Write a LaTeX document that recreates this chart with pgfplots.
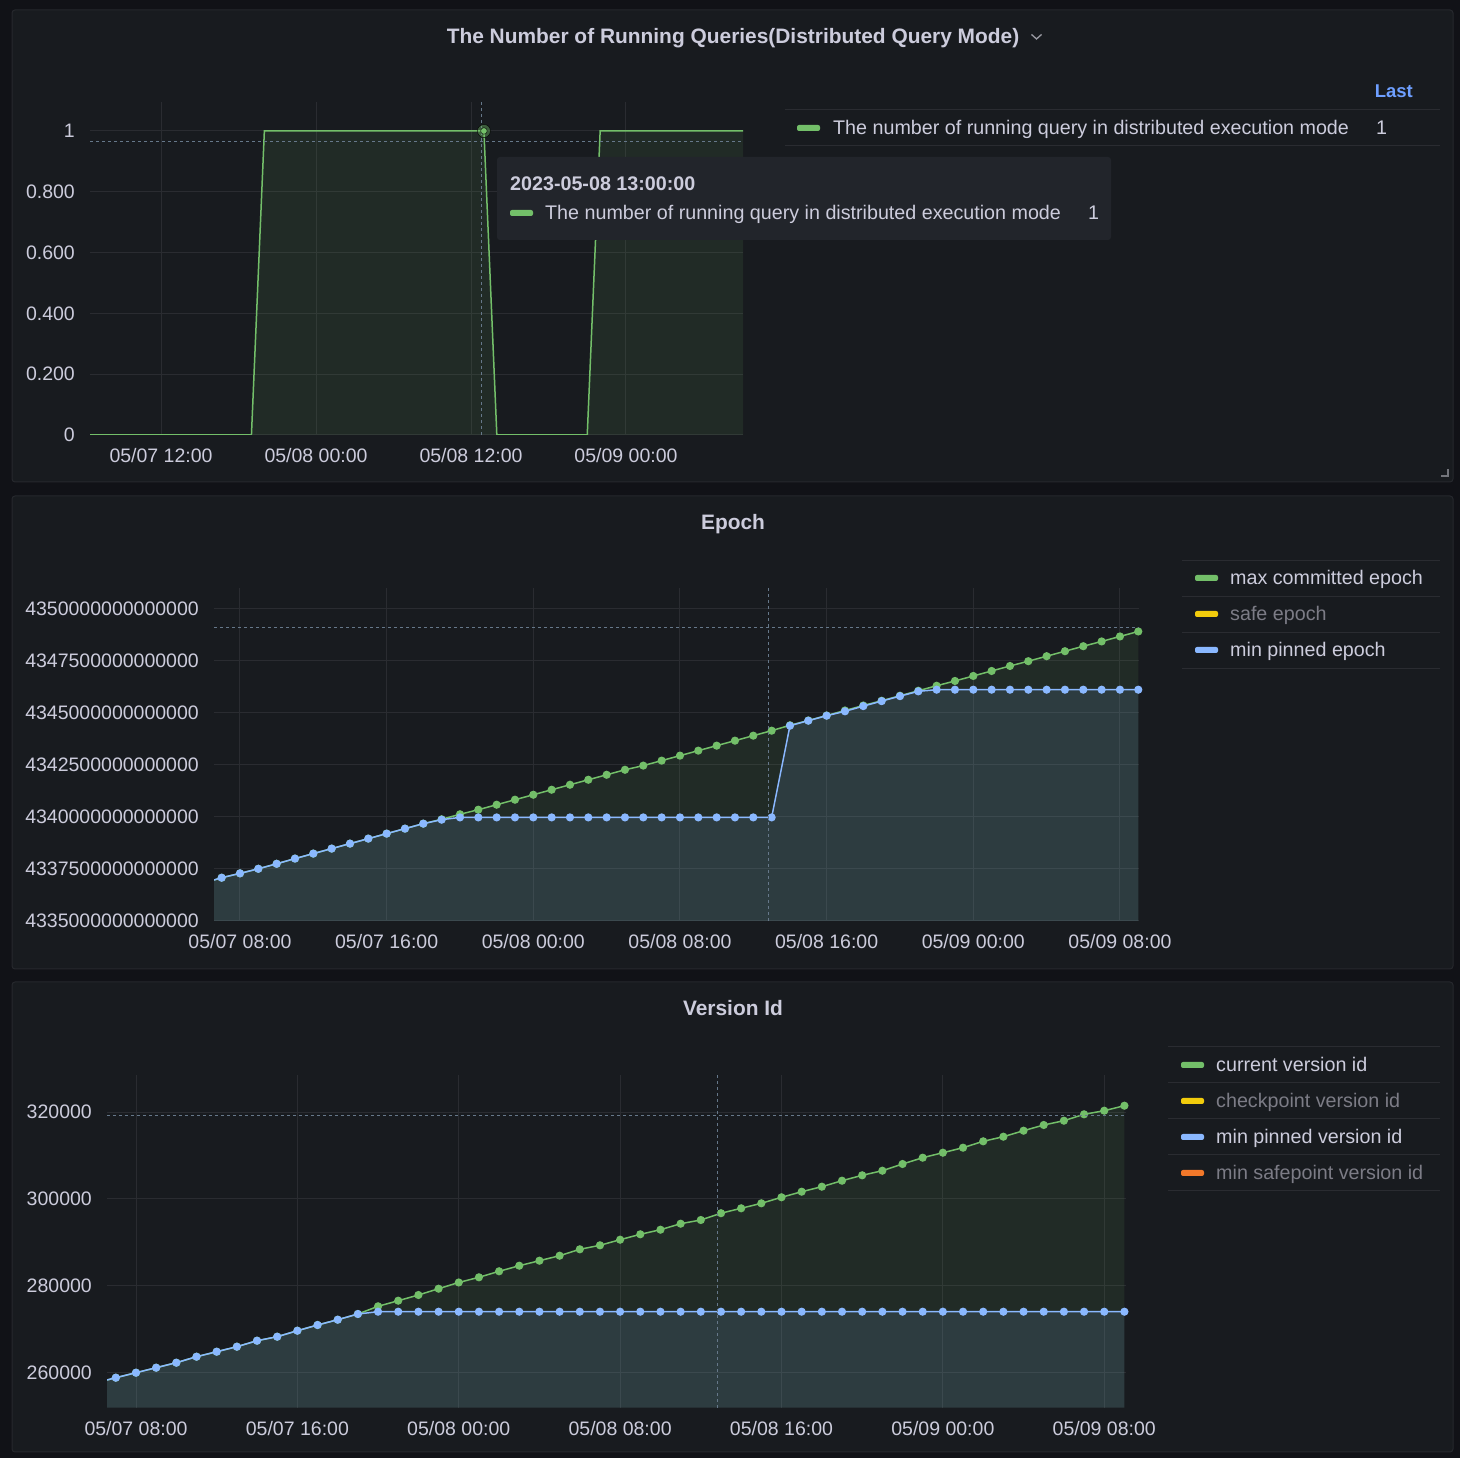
\documentclass[border=0pt]{standalone}
\usepackage{fontspec}
\setmainfont{Liberation Sans}
\usepackage{pgfplots}
\usepackage{pgfplotstable}
\pgfplotsset{compat=1.18}
\definecolor{pagebg}{HTML}{111217}
\definecolor{panelbg}{HTML}{181B1F}
\definecolor{panelborder}{HTML}{26282D}
\definecolor{gridc}{HTML}{2A2C31}
\definecolor{txt}{HTML}{CCCCDC}
\definecolor{dimtxt}{HTML}{7C7C86}
\definecolor{ggreen}{HTML}{73BF69}
\definecolor{gblue}{HTML}{8AB8FF}
\definecolor{gyellow}{HTML}{F2CC0C}
\definecolor{gorange}{HTML}{F2782A}
\definecolor{linkblue}{HTML}{6E9FFF}
\definecolor{tipbg}{HTML}{22252B}
\definecolor{crossc}{HTML}{66788A}
\definecolor{chev}{HTML}{9A9BA3}
\newcommand{\tickfont}{\fontsize{19.5bp}{22bp}\selectfont}
\newcommand{\legfont}{\fontsize{19.7bp}{22bp}\selectfont}
\newcommand{\titlefont}{\fontsize{20.9bp}{24bp}\selectfont\bfseries}

\pgfplotstableread{
h v
6.5 0
19 0
20 1
37 1
38 0
45 0
46 1
57.06 1
}\qrytbl

\pgfplotstableread{
h g b
6.582 4336.97 4336.97
7 4337.08 4337.08
8 4337.29 4337.29
9 4337.51 4337.51
10 4337.75 4337.75
11 4338.00 4338.00
12 4338.24 4338.24
13 4338.48 4338.48
14 4338.72 4338.72
15 4338.96 4338.96
16 4339.20 4339.20
17 4339.44 4339.44
18 4339.68 4339.68
19 4339.89 4339.87
20 4340.13 4339.98
21 4340.35 4339.98
22 4340.59 4339.98
23 4340.83 4339.98
24 4341.07 4339.98
25 4341.31 4339.98
26 4341.55 4339.98
27 4341.79 4339.98
28 4342.03 4339.98
29 4342.27 4339.98
30 4342.47 4339.98
31 4342.71 4339.98
32 4342.95 4339.98
33 4343.19 4339.98
34 4343.43 4339.98
35 4343.67 4339.98
36 4343.91 4339.98
37 4344.15 4339.98
38 4344.41 4344.39
39 4344.64 4344.63
40 4344.88 4344.87
41 4345.12 4345.08
42 4345.36 4345.33
43 4345.59 4345.57
44 4345.83 4345.81
45 4346.07 4346.04
46 4346.31 4346.12
47 4346.54 4346.12
48 4346.78 4346.12
49 4347.02 4346.12
50 4347.26 4346.12
51 4347.49 4346.12
52 4347.73 4346.12
53 4347.97 4346.12
54 4348.21 4346.12
55 4348.44 4346.12
56 4348.68 4346.12
57 4348.92 4346.12
}\epochtbl

\pgfplotstableread{
h g b
6.562 258224 258224
7 258754 258754
8 259908 259908
9 261061 261061
10 262215 262215
11 263600 263600
12 264752 264752
13 265905 265905
14 267290 267290
15 268212 268212
16 269596 269596
17 270911 270911
18 272134 272134
19 273449 273449
20 275225 273979
21 276517 273979
22 277831 273979
23 279285 273979
24 280720 273979
25 281915 273979
26 283299 273979
27 284591 273979
28 285744 273979
29 286897 273979
30 288374 273979
31 289296 273979
32 290588 273979
33 291834 273979
34 292895 273979
35 294279 273979
36 295133 273979
37 296700 273979
38 297832 273979
39 298985 273979
40 300370 273979
41 301661 273979
42 302815 273979
43 304199 273979
44 305444 273979
45 306505 273979
46 308050 273979
47 309504 273979
48 310657 273979
49 311811 273979
50 313287 273979
51 314349 273979
52 315733 273979
53 317048 273979
54 318040 273979
55 319516 273979
56 320346 273979
57 321500 273979
}\versiontbl

\pgfplotsset{
  gf/.style={
    scale only axis,
    anchor=south west,
    axis line style={draw=none},
    grid=major,
    major grid style={draw=gridc, line width=1bp},
    tick style={draw=none},
    major tick length=0pt,
    scaled y ticks=false,
    scaled x ticks=false,
    tick label style={font=\tickfont, text=txt},
    xticklabel style={anchor=center, yshift=-20.5bp, inner sep=0pt},
    yticklabel style={anchor=east, xshift=-15bp, inner sep=0pt},
    clip mode=individual,
  },
}
\tikzset{
  gline/.style={ggreen, line width=1.5bp, mark=*, mark size=3.3bp, mark phase=2, mark repeat=1, mark options={solid, fill=ggreen, draw=ggreen}},
  bline/.style={gblue, line width=1.5bp, mark=*, mark size=3.3bp, mark phase=2, mark repeat=1, mark options={solid, fill=gblue, draw=gblue}},
  cross/.style={crossc, line width=0.9bp, dash pattern=on 3bp off 3bp},
  gfill/.style={draw=none, fill=ggreen, fill opacity=0.1},
  bfill/.style={draw=none, fill=gblue, fill opacity=0.12},
}

\newcommand{\swatch}[3]{\fill[#3, rounded corners=2bp] (#1,#2-3) rectangle (#1+23,#2+3);}
\newcommand{\ltext}[4]{\node[anchor=base west, inner sep=0pt, text=#3, font=\legfont] at (#1,#2) {#4};}
\newcommand{\sep}[3]{\draw[gridc, line width=1bp] (#1,#3) -- (#2,#3);}

\begin{document}
\begin{tikzpicture}[x=1bp, y=1bp]
% page and panels
\fill[pagebg] (0,0) rectangle (1460,1458);
\draw[panelborder, fill=panelbg, line width=1bp, rounded corners=3bp] (12,976) rectangle (1453,1448);
\draw[panelborder, fill=panelbg, line width=1bp, rounded corners=3bp] (12,489) rectangle (1453,962);
\draw[panelborder, fill=panelbg, line width=1bp, rounded corners=3bp] (12,6) rectangle (1453,476);

% titles
\node[anchor=base, inner sep=0pt, text=txt, font=\titlefont] at (733,1414) {The Number of Running Queries(Distributed Query Mode)};
\draw[chev, line width=1.3bp] (1031.5,1423.5) -- (1036.5,1419) -- (1041.5,1423.5);
\node[anchor=base, inner sep=0pt, text=txt, font=\titlefont] at (733,928.5) {Epoch};
\node[anchor=base, inner sep=0pt, text=txt, font=\titlefont] at (733,442.5) {Version Id};
\draw[chev!70!panelbg, line width=1.2bp] (1441,982) -- (1448,982) -- (1448,989);

% ---------- panel 1 ----------
\begin{axis}[gf, at={(90bp,1023bp)}, width=653bp, height=333bp,
  xmin=6.5, xmax=57.06, ymin=0, ymax=1.0954,
  xtick={12,24,36,48}, xticklabels={05/07 12:00,05/08 00:00,05/08 12:00,05/09 00:00},
  ytick={0,0.2,0.4,0.6,0.8,1}, yticklabels={0,0.200,0.400,0.600,0.800,1}]
  \addplot[gfill] table[x=h, y=v] {\qrytbl} -- (axis cs:57.06,0) -- (axis cs:6.5,0) -- cycle;
  \addplot[ggreen, line width=1.5bp] table[x=h, y=v] {\qrytbl};
  \draw[cross] (axis cs:36.77,0) -- (axis cs:36.77,1.0954);
  \draw[cross] (axis cs:6.5,0.964) -- (axis cs:57.06,0.964);
  \addplot[only marks, mark=*, mark size=6.5bp, mark options={fill=ggreen, draw=none, fill opacity=0.4}] coordinates {(37,1)};
  \addplot[only marks, mark=*, mark size=3.3bp, mark options={fill=ggreen, draw=none}] coordinates {(37,1)};
\end{axis}

% legend panel 1
\node[anchor=base east, inner sep=0pt, text=linkblue, font=\fontsize{18.5bp}{22bp}\selectfont\bfseries] at (1413,1360.5) {Last};
\sep{785}{1440}{1348}
\sep{785}{1440}{1312}
\swatch{797}{1330}{ggreen}
\ltext{833}{1323}{txt}{The number of running query in distributed execution mode}
\ltext{1376}{1323}{txt}{1}

% tooltip
\fill[tipbg, rounded corners=3bp] (497,1218) rectangle (1111,1301);
\node[anchor=base west, inner sep=0pt, text=txt, font=\legfont\bfseries] at (510,1267) {2023-05-08 13:00:00};
\swatch{510}{1245}{ggreen}
\ltext{545}{1238}{txt}{The number of running query in distributed execution mode}
\ltext{1088}{1238}{txt}{1}

% ---------- panel 2 ----------
\begin{axis}[gf, at={(214bp,537bp)}, width=925bp, height=333bp,
  xmin=6.582, xmax=57.04, ymin=4335, ymax=4351.01,
  xtick={8,16,24,32,40,48,56},
  xticklabels={05/07 08:00,05/07 16:00,05/08 00:00,05/08 08:00,05/08 16:00,05/09 00:00,05/09 08:00},
  ytick={4335,4337.5,4340,4342.5,4345,4347.5,4350},
  yticklabels={4335000000000000,4337500000000000,4340000000000000,4342500000000000,4345000000000000,4347500000000000,4350000000000000}]
  \addplot[gfill] table[x=h, y=g] {\epochtbl} -- (axis cs:57,4335) -- (axis cs:6.582,4335) -- cycle;
  \addplot[bfill] table[x=h, y=b] {\epochtbl} -- (axis cs:57,4335) -- (axis cs:6.582,4335) -- cycle;
  \addplot[gline] table[x=h, y=g] {\epochtbl};
  \addplot[bline] table[x=h, y=b] {\epochtbl};
  \draw[cross] (axis cs:36.8,4335) -- (axis cs:36.8,4351.01);
  \draw[cross] (axis cs:6.582,4349.09) -- (axis cs:57.04,4349.09);
\end{axis}

% legend panel 2
\sep{1182}{1440}{897}
\sep{1182}{1440}{861}
\sep{1182}{1440}{825}
\sep{1182}{1440}{789}
\swatch{1195}{880}{ggreen}
\ltext{1230}{873}{txt}{max committed epoch}
\swatch{1195}{844}{gyellow}
\ltext{1230}{837}{dimtxt}{safe epoch}
\swatch{1195}{808}{gblue}
\ltext{1230}{801}{txt}{min pinned epoch}

% ---------- panel 3 ----------
\begin{axis}[gf, at={(107bp,50.3bp)}, width=1019bp, height=332.7bp,
  xmin=6.562, xmax=57.08, ymin=251834, ymax=328582,
  xtick={8,16,24,32,40,48,56},
  xticklabels={05/07 08:00,05/07 16:00,05/08 00:00,05/08 08:00,05/08 16:00,05/09 00:00,05/09 08:00},
  ytick={260000,280000,300000,320000},
  yticklabels={260000,280000,300000,320000}]
  \addplot[gfill] table[x=h, y=g] {\versiontbl} -- (axis cs:57,251834) -- (axis cs:6.562,251834) -- cycle;
  \addplot[bfill] table[x=h, y=b] {\versiontbl} -- (axis cs:57,251834) -- (axis cs:6.562,251834) -- cycle;
  \addplot[gline] table[x=h, y=g] {\versiontbl};
  \addplot[bline] table[x=h, y=b] {\versiontbl};
  \draw[cross] (axis cs:36.8,251834) -- (axis cs:36.8,328582);
  \draw[cross] (axis cs:6.562,319354) -- (axis cs:57.08,319354);
\end{axis}

% legend panel 3
\sep{1168}{1440}{411}
\sep{1168}{1440}{375}
\sep{1168}{1440}{339}
\sep{1168}{1440}{303}
\sep{1168}{1440}{267}
\swatch{1181}{393}{ggreen}
\ltext{1216}{386}{txt}{current version id}
\swatch{1181}{357}{gyellow}
\ltext{1216}{350}{dimtxt}{checkpoint version id}
\swatch{1181}{321}{gblue}
\ltext{1216}{314}{txt}{min pinned version id}
\swatch{1181}{285}{gorange}
\ltext{1216}{278}{dimtxt}{min safepoint version id}

\pgfresetboundingbox
\path[use as bounding box] (0,0) rectangle (1460,1458);
\end{tikzpicture}
\end{document}
